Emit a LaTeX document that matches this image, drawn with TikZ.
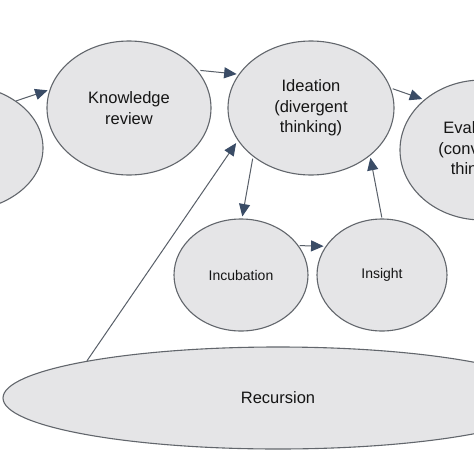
\documentclass[tikz,border=0pt]{standalone}
\usepackage{fontspec}
\setmainfont{Liberation Sans}
\usetikzlibrary{shapes.geometric,arrows.meta}
\definecolor{efill}{HTML}{E5E5E7}
\definecolor{edraw}{HTML}{62666C}
\definecolor{lcol}{HTML}{585F68}
\definecolor{tipcol}{HTML}{3A4C66}
\definecolor{txt}{HTML}{151515}
\tikzset{
  bub/.style={ellipse, draw=edraw, fill=efill, line width=1.1pt, inner sep=0pt,
    align=center, text=txt, font=\fontsize{16.5}{20.5}\selectfont},
  smalltext/.style={font=\fontsize{14}{17}\selectfont},
  conn/.style={draw=lcol, line width=1pt, shorten >=2pt,
    -{Triangle[length=12.5pt,width=11pt,color=tipcol]}},
}
\begin{document}
\begin{tikzpicture}[x=1pt,y=-1pt]
\useasboundingbox (0,0) rectangle (474,474);
\clip (0,0) rectangle (474,474);
\fill[white] (0,0) rectangle (474,474);
\node[bub, minimum width=166pt, minimum height=126pt] (left) at (-40,148) {};
\node[bub, minimum width=164pt, minimum height=134pt] (kr) at (129,108) {Knowledge\\review};
\node[bub, minimum width=166pt, minimum height=134pt] (id) at (311,108) {Ideation\\(divergent\\thinking)};
\node[bub, minimum width=164pt, minimum height=140pt] (ev) at (482,150) {Evaluation\\(convergent\\thinking)};
\node[bub, smalltext, minimum width=134pt, minimum height=112pt] (inc) at (241,275) {Incubation};
\node[bub, smalltext, minimum width=130pt, minimum height=112pt] (ins) at (382,275) {Insight};
\node[bub, minimum width=550pt, minimum height=102pt] (rec) at (278,398) {Recursion};
\draw[conn] (left.40) -- (kr.167);
\draw[conn, shorten <=3pt] (kr.29) -- (id.155);
\draw[conn, shorten <=2pt] (id.14) -- (ev.139);
\draw[conn, shorten <=2pt] (id.220) -- (inc.89);
\draw[conn, shorten <=1pt] (ins.90) -- (id.321);
\draw[conn, shorten <=1pt] (inc.27) -- (ins.153);
\draw[conn, shorten >=3pt] (rec.169.5) -- (id.204);
\end{tikzpicture}
\end{document}
